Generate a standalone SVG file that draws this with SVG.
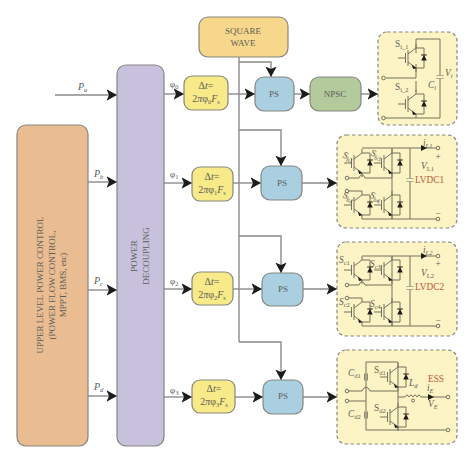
<svg xmlns="http://www.w3.org/2000/svg" width="474" height="463" viewBox="0 0 474 463">
<style>
text{font-family:"Liberation Serif","Times New Roman",serif;fill:#5c5c58;font-size:9px}
.c{text-anchor:middle}
.i{font-style:italic}
.node{stroke:#85857f;stroke-width:1.2}
.conn{fill:none;stroke:#8b8b8b;stroke-width:1.4}
.arr{marker-end:url(#ah)}
.panel{fill:#fcf4c4;stroke:#85857f;stroke-width:1.2;stroke-dasharray:3.5 2.5}
.w{fill:none;stroke:#72725f;stroke-width:1}
.term{fill:#fcf4c4;stroke:#72725f;stroke-width:1}
.y{fill:#f8ea88}
.b{fill:#a9cfe0}
.red{fill:#c0553a}
.s{font-size:6.5px}
.t{font-size:9.300px}
.l{font-size:10px}
</style>
<defs>
<marker id="ah" markerUnits="userSpaceOnUse" markerWidth="11" markerHeight="12" refX="10.5" refY="6" orient="auto">
<path d="M0 0.3L10.5 6L0 11.7L2.5 6Z" fill="#1c1c1c"/>
</marker>
<g id="igbt">
<path class="w" d="M0-14V-10L-8-4M-8-8V8M-8 4L0 10V14M-10.5-5V5M-18 0H-10.5M0-10H8V10H0"/>
<path d="M5.2 2.5H10.8L8-3ZM-4 6.8L0.5 10.3L-3 11Z" fill="#1c1c1c"/>
<path d="M5.2-3H10.8" stroke="#1c1c1c" stroke-width="1"/>
</g>
<g id="capv"><path d="M-3.5-1.3H3.5M-3.5 1.3H3.5" stroke="#72725f" stroke-width="1"/><rect x="-3.5" y="-1.3" width="7" height="2.6" fill="#fcf4c4"/></g>
<g id="caph"><path d="M-1.3-3.5V3.5M1.3-3.5V3.5" stroke="#72725f" stroke-width="1"/></g>
</defs>
<rect width="474" height="463" fill="#fff"/>

<g id="connectors">
<path class="conn arr" d="M55 95H117"/>
<path class="conn arr" d="M88 182H117"/>
<path class="conn arr" d="M88 290H117"/>
<path class="conn arr" d="M88 396H117"/>
<path class="conn arr" d="M164 94H184"/>
<path class="conn arr" d="M164 183H192"/>
<path class="conn arr" d="M164 289H192"/>
<path class="conn arr" d="M164 397H192"/>
<path class="conn" d="M239 57V342"/>
<path class="conn arr" d="M239 62H271V77"/>
<path class="conn arr" d="M239 130H281V166"/>
<path class="conn arr" d="M239 236H281V273"/>
<path class="conn arr" d="M239 342H281V380"/>
<path class="conn arr" d="M228 94H255"/>
<path class="conn arr" d="M233 183H261"/>
<path class="conn arr" d="M233 289H262"/>
<path class="conn arr" d="M235 397H263"/>
<path class="conn arr" d="M294 94H310"/>
<path class="conn arr" d="M361 94H378"/>
<path class="conn arr" d="M302 183H337"/>
<path class="conn arr" d="M303 289H337"/>
<path class="conn arr" d="M303 397H337"/>
</g>

<g id="upper-control">
<rect class="node" x="17" y="125" width="71" height="321" rx="9" fill="#e9bc92"/>
<text class="c" transform="translate(43 285) rotate(-90)">UPPER LEVEL POWER CONTROL</text>
<text class="c" transform="translate(55 285) rotate(-90)">(POWER FLOW CONTROL,</text>
<text class="c" transform="translate(66 285) rotate(-90)">MPPT, BMS, etc)</text>
</g>
<g id="power-decoupling">
<rect class="node" x="117" y="65" width="47" height="381" rx="9" fill="#c8c1dd"/>
<text class="c" transform="translate(137 256) rotate(-90)">POWER</text>
<text class="c" transform="translate(149 256) rotate(-90)">DECOUPLING</text>
</g>
<g id="square-wave">
<rect class="node" x="199" y="17" width="89" height="40" rx="9" fill="#f6d78c"/>
<text class="c" x="243" y="34">SQUARE</text>
<text class="c" x="243" y="45.500">WAVE</text>
</g>

<g id="labels-p">
<text class="i l" x="78" y="90">P<tspan class="s" dy="2">a</tspan></text>
<text class="i l" x="94" y="177">P<tspan class="s" dy="2">b</tspan></text>
<text class="i l" x="94" y="284">P<tspan class="s" dy="2">c</tspan></text>
<text class="i l" x="94" y="390">P<tspan class="s" dy="2">d</tspan></text>
<text x="170" y="87">φ<tspan class="s" dy="2">0</tspan></text>
<text x="170" y="177">φ<tspan class="s" dy="2">1</tspan></text>
<text x="170" y="284">φ<tspan class="s" dy="2">2</tspan></text>
<text x="170" y="393">φ<tspan class="s" dy="2">3</tspan></text>
</g>

<g id="dt0"><rect class="node y" x="184" y="76" width="44" height="34" rx="8"/>
<text class="c l" x="206" y="89">Δ<tspan class="i">t</tspan>=</text><text class="c l" x="206" y="102">2<tspan class="i">π</tspan>φ<tspan class="s" dy="2">0</tspan><tspan class="i" dy="-2">F</tspan><tspan class="s" dy="2">s</tspan></text></g>
<g id="dt1"><rect class="node y" x="192" y="167" width="41" height="34" rx="8"/>
<text class="c l" x="212" y="180">Δ<tspan class="i">t</tspan>=</text><text class="c l" x="212" y="192.500">2<tspan class="i">π</tspan>φ<tspan class="s" dy="2">1</tspan><tspan class="i" dy="-2">F</tspan><tspan class="s" dy="2">s</tspan></text></g>
<g id="dt2"><rect class="node y" x="192" y="272" width="41" height="33" rx="8"/>
<text class="c l" x="212" y="285">Δ<tspan class="i">t</tspan>=</text><text class="c l" x="212" y="297.500">2<tspan class="i">π</tspan>φ<tspan class="s" dy="2">2</tspan><tspan class="i" dy="-2">F</tspan><tspan class="s" dy="2">s</tspan></text></g>
<g id="dt3"><rect class="node y" x="192" y="380" width="43" height="33" rx="8"/>
<text class="c l" x="214" y="392">Δ<tspan class="i">t</tspan>=</text><text class="c l" x="214" y="404.500">2<tspan class="i">π</tspan>φ<tspan class="s" dy="2">3</tspan><tspan class="i" dy="-2">F</tspan><tspan class="s" dy="2">s</tspan></text></g>

<g id="ps0"><rect class="node b" x="255" y="77" width="39" height="34" rx="9"/><text class="c" x="274" y="97">PS</text></g>
<g id="ps1"><rect class="node b" x="261" y="166" width="41" height="34" rx="9"/><text class="c" x="282" y="186">PS</text></g>
<g id="ps2"><rect class="node b" x="262" y="273" width="41" height="33" rx="9"/><text class="c" x="283" y="292">PS</text></g>
<g id="ps3"><rect class="node b" x="263" y="380" width="40" height="34" rx="9"/><text class="c" x="283" y="399">PS</text></g>
<g id="npsc"><rect class="node" x="310" y="77" width="51" height="34" rx="9" fill="#b3ca9c"/><text class="c" x="335" y="97">NPSC</text></g>

<g id="panel-npsc">
<rect class="panel" x="378" y="32" width="79" height="93" rx="9"/>
<path class="w" d="M416 39H440V118H385M386 78H416M416 39V53M416 81V92M416 64V78"/>
<use href="#igbt" x="416" y="58"/>
<use href="#igbt" x="416" y="104"/>
<use href="#capv" x="440" y="77"/>
<circle class="term" cx="383.500" cy="78" r="1.800"/><circle class="term" cx="383.500" cy="118" r="1.800"/>
<text class="t" x="395" y="47">S<tspan class="s" dy="2">i_1</tspan></text>
<text class="t" x="395" y="90">S<tspan class="s" dy="2">i_2</tspan></text>
<text class="t i" x="428" y="88">C<tspan class="s" dy="2">i</tspan></text>
<text class="t i" x="445" y="76">V<tspan class="s" dy="2">i</tspan></text>
</g>

<g id="panel-lvdc1">
<rect class="panel" x="337" y="135" width="120" height="93" rx="9"/>
<path class="w" d="M362 148H438M362 219H438M410 148V219M392 148V219M349 178H359Q362 171 365 178H392M349 191H362"/>
<use href="#igbt" x="362" y="163"/><use href="#igbt" x="392" y="163"/>
<use href="#igbt" x="362" y="205"/><use href="#igbt" x="392" y="205"/>
<use href="#capv" x="410" y="180"/>
<path d="M421 145L427 148L421 151Z" fill="#1c1c1c"/>
<circle class="term" cx="347" cy="178" r="1.800"/><circle class="term" cx="347" cy="191" r="1.800"/>
<circle class="term" cx="438" cy="148" r="1.800"/><circle class="term" cx="438" cy="219" r="1.800"/>
<text class="t" transform="translate(342 157) rotate(25)">S<tspan class="s" dy="2">b1</tspan></text>
<text class="t" transform="translate(370 155) rotate(25)">S<tspan class="s" dy="2">b3</tspan></text>
<text class="t" transform="translate(342 197) rotate(25)">S<tspan class="s" dy="2">b2</tspan></text>
<text class="t" transform="translate(369 197) rotate(25)">S<tspan class="s" dy="2">b4</tspan></text>
<text class="t i" x="423" y="146">i<tspan class="s" dy="2">L1</tspan></text>
<text class="t c" x="438" y="160">+</text>
<text class="t" x="421" y="169"><tspan class="i">V</tspan><tspan class="s" dy="2">L1</tspan></text>
<text class="t red" x="415" y="183">LVDC1</text>
<text class="t c" x="438" y="217">−</text>
</g>

<g id="panel-lvdc2">
<rect class="panel" x="337" y="242" width="120" height="94" rx="9"/>
<path class="w" d="M362 256H438M362 326H438M410 256V326M392 256V326M349 285H359Q362 278 365 285H392M349 298H362"/>
<use href="#igbt" x="362" y="270"/><use href="#igbt" x="392" y="270"/>
<use href="#igbt" x="362" y="312"/><use href="#igbt" x="392" y="312"/>
<use href="#capv" x="410" y="288"/>
<path d="M421 253L427 256L421 259Z" fill="#1c1c1c"/>
<circle class="term" cx="347" cy="285" r="1.800"/><circle class="term" cx="347" cy="298" r="1.800"/>
<circle class="term" cx="438" cy="256" r="1.800"/><circle class="term" cx="438" cy="326" r="1.800"/>
<text class="t" x="339" y="263"><tspan class="i">S</tspan><tspan class="s" dy="2">c1</tspan></text>
<text class="t" x="370" y="267"><tspan class="i">S</tspan><tspan class="s" dy="2">c3</tspan></text>
<text class="t" x="339" y="305"><tspan class="i">S</tspan><tspan class="s" dy="2">c2</tspan></text>
<text class="t" x="370" y="307"><tspan class="i">S</tspan><tspan class="s" dy="2">c4</tspan></text>
<text class="t i" x="423" y="253">i<tspan class="s" dy="2">L2</tspan></text>
<text class="t c" x="438" y="267">+</text>
<text class="t" x="421" y="276"><tspan class="i">V</tspan><tspan class="s" dy="2">L2</tspan></text>
<text class="t red" x="415" y="290">LVDC2</text>
<text class="t c" x="438" y="324">−</text>
</g>

<g id="panel-ess">
<rect class="panel" x="337" y="350" width="120" height="94" rx="9"/>
<path class="w" d="M366 362H398V430H366ZM349 391H362Q366 383 370 391H398M349 401H366M398 397H405Q407 393 409 397Q411 393 413 397Q415 393 417 397Q419 393 421 397H446M398 430H446"/>
<use href="#igbt" x="398" y="377"/><use href="#igbt" x="398" y="417"/>
<use href="#caph" x="366" y="377"/><use href="#caph" x="366" y="415"/>
<path d="M428 394L434 397L428 400Z" fill="#1c1c1c"/>
<circle cx="413" cy="400.500" r="1.500" fill="none" stroke="#72725f"/>
<circle class="term" cx="347" cy="391" r="1.800"/><circle class="term" cx="347" cy="401" r="1.800"/>
<circle class="term" cx="448" cy="397" r="1.800"/><circle class="term" cx="448" cy="430" r="1.800"/>
<text class="t" x="348" y="376"><tspan class="i">C</tspan><tspan class="s" dy="2">d1</tspan></text>
<text class="t" x="348" y="417"><tspan class="i">C</tspan><tspan class="s" dy="2">d2</tspan></text>
<text class="t" x="374" y="373">S<tspan class="s" dy="2">d1</tspan></text>
<text class="t" x="374" y="411">S<tspan class="s" dy="2">d2</tspan></text>
<text class="t i" x="409" y="386">L<tspan class="s" dy="2">d</tspan></text>
<text class="t red" x="428" y="382">ESS</text>
<text class="t i" x="427" y="391">i<tspan class="s" dy="2">E</tspan></text>
<text class="t i" x="428" y="407">V<tspan class="s" dy="2">E</tspan></text>
</g>
</svg>
